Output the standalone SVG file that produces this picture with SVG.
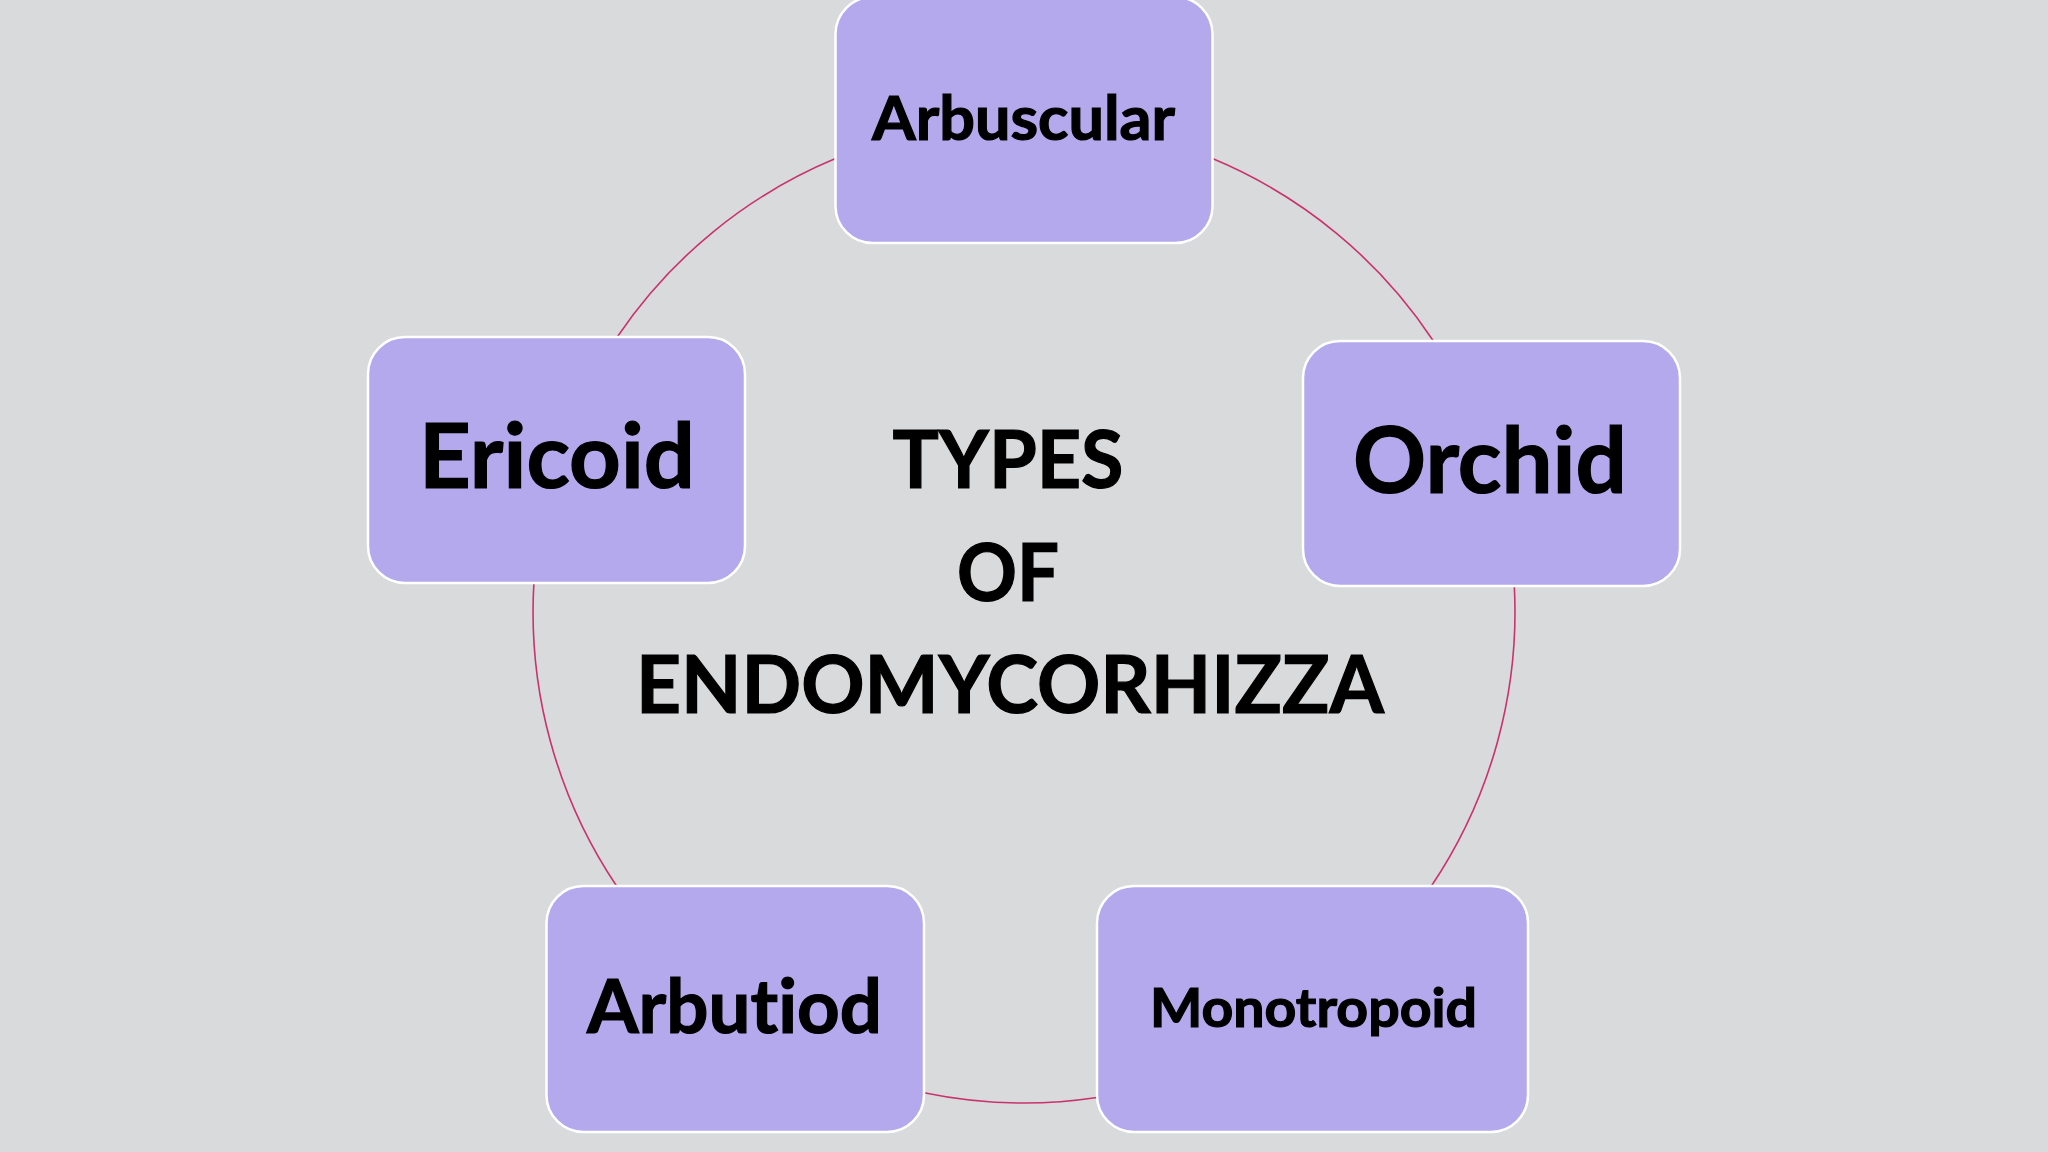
<svg xmlns="http://www.w3.org/2000/svg" width="2048" height="1152" viewBox="0 0 2048 1152">
<style>
.bg{fill:#D9DADC}
.box{fill:#B4A9EC;stroke:#FFFFFF;stroke-width:2.5}
.arc{fill:none;stroke:#C8336E;stroke-width:1.6}
.lbl{font-family:Lato,"Open Sans","Liberation Sans",sans-serif;font-weight:700;fill:#000000;stroke:#000000;stroke-width:1.2;text-anchor:middle;font-variant-ligatures:none;font-feature-settings:"liga" 0,"clig" 0}
</style>
<rect class="bg" x="0" y="0" width="2048" height="1152"/>
<g id="connectors">
<path class="arc" d="M1212.5,158.6 A491,491 0 0 1 1433.4,341"/>
<path class="arc" d="M1514.3,586 A491,491 0 0 1 1431.4,886"/>
<path class="arc" d="M1097,1097.5 A491,491 0 0 1 924,1092.7"/>
<path class="arc" d="M616.6,886 A491,491 0 0 1 533.9,583"/>
<path class="arc" d="M617.2,337 A491,491 0 0 1 835.5,158.6"/>
</g>
<g id="title">
<text class="lbl" x="1008" y="488" font-size="80" textLength="231" lengthAdjust="spacingAndGlyphs">TYPES</text>
<text class="lbl" x="1008" y="601" font-size="80" textLength="102" lengthAdjust="spacingAndGlyphs">OF</text>
<text class="lbl" x="1010" y="713" font-size="80" textLength="748" lengthAdjust="spacingAndGlyphs">ENDOMYCORHIZZA</text>
</g>
<g id="node-arbuscular">
<rect class="box" x="835.5" y="-3" width="377" height="246" rx="37"/>
<text class="lbl" x="1023.5" y="140" font-size="62" textLength="303" lengthAdjust="spacingAndGlyphs">Arbuscular</text>
</g>
<g id="node-orchid">
<rect class="box" x="1303" y="341" width="377" height="245" rx="37"/>
<text class="lbl" x="1490" y="493" font-size="91" textLength="274" lengthAdjust="spacingAndGlyphs">Orchid</text>
</g>
<g id="node-monotropoid">
<rect class="box" x="1097" y="886" width="431" height="246" rx="37"/>
<text class="lbl" x="1313.5" y="1027" font-size="54" textLength="327" lengthAdjust="spacingAndGlyphs">Monotropoid</text>
</g>
<g id="node-arbutiod">
<rect class="box" x="546.5" y="886" width="377.5" height="246" rx="37"/>
<text class="lbl" x="734.5" y="1033" font-size="74" textLength="295" lengthAdjust="spacingAndGlyphs">Arbutiod</text>
</g>
<g id="node-ericoid">
<rect class="box" x="368" y="337" width="377" height="246" rx="37"/>
<text class="lbl" x="557" y="488" font-size="90" textLength="276" lengthAdjust="spacingAndGlyphs">Ericoid</text>
</g>
</svg>
